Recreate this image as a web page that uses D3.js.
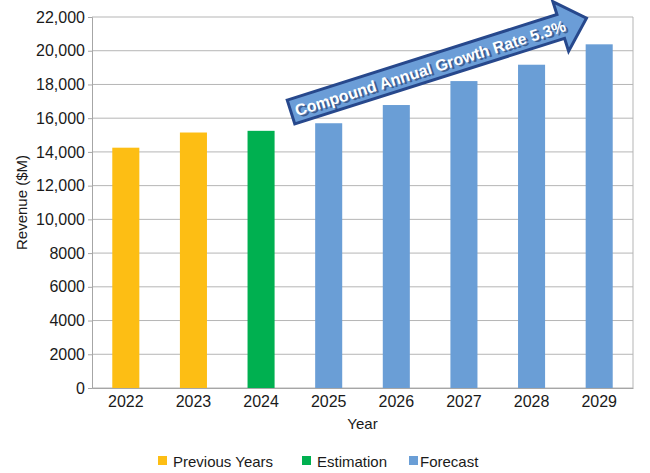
<!DOCTYPE html>
<html>
<head>
<meta charset="utf-8">
<script src="https://cdn.jsdelivr.net/npm/d3@7"></script>
<style>
  body { margin: 0; background: #fff; }
  text { font-family: "Liberation Sans", Arial, sans-serif; fill: #1a1a1a; }
</style>
</head>
<body>
<div id="chart"></div>
<script>
// data
const years = ["2022", "2023", "2024", "2025", "2026", "2027", "2028", "2029"];
const revenue = [14250, 15150, 15250, 15700, 16780, 18200, 19170, 20380];
const kinds = ["Previous Years", "Previous Years", "Estimation", "Forecast", "Forecast", "Forecast", "Forecast", "Forecast"];
const legendItems = ["Previous Years", "Estimation", "Forecast"];
const yTicks = [0, 2000, 4000, 6000, 8000, 10000, 12000, 14000, 16000, 18000, 20000, 22000];
const cagrLabel = "Compound Annual Growth Rate 5.3%";

const width = 650, height = 473;
const margin = {top: 17, right: 17, bottom: 85, left: 92};
const w = width - margin.left - margin.right,
      h = height - margin.top - margin.bottom;

const color = d3.scaleOrdinal()
    .domain(legendItems)
    .range(["#fdbe14", "#00b050", "#6a9ed6"]);

const svg = d3.select("#chart").append("svg")
    .attr("width", width).attr("height", height);

const g = svg.append("g").attr("transform", `translate(${margin.left},${margin.top})`);

const x = d3.scaleBand().domain(years).range([0, w]).paddingInner(0.6).paddingOuter(0.3);
const y = d3.scaleLinear().domain([0, 22000]).range([h, 0]);

// gridlines
g.append("g").selectAll("line")
    .data(yTicks)
  .enter().append("line")
    .attr("x1", 0).attr("x2", w)
    .attr("y1", d => y(d)).attr("y2", d => y(d))
    .style("stroke", "#b5b5b5").style("stroke-width", 1);

// right border
g.append("line")
    .attr("x1", w).attr("x2", w).attr("y1", 0).attr("y2", h)
    .style("stroke", "#b5b5b5");

// y axis
const fmt = d => d >= 10000 ? d3.format(",")(d) : String(d);
const yAxis = g.append("g")
    .call(d3.axisLeft(y).tickValues(yTicks).tickFormat(fmt).tickSize(4).tickPadding(3));
yAxis.select(".domain").style("stroke", "#a6a6a6");
yAxis.selectAll(".tick line").style("stroke", "#a6a6a6");
yAxis.selectAll("text").style("font-size", "16px").style("fill", "#1a1a1a")
    .style("font-family", "'Liberation Sans', Arial, sans-serif");

// bars
g.append("g").selectAll("rect")
    .data(years)
  .enter().append("rect")
    .attr("x", d => x(d))
    .attr("width", x.bandwidth())
    .attr("y", (d, i) => y(revenue[i]))
    .attr("height", (d, i) => h - y(revenue[i]))
    .style("fill", (d, i) => color(kinds[i]));

// x axis
const xAxis = g.append("g")
    .attr("transform", `translate(0,${h})`)
    .call(d3.axisBottom(x).tickSize(0).tickPadding(8));
xAxis.select(".domain").style("stroke", "#a6a6a6");
xAxis.selectAll("text").style("font-size", "16px").style("fill", "#1a1a1a")
    .style("font-family", "'Liberation Sans', Arial, sans-serif");

// axis titles
svg.append("text")
    .attr("x", margin.left + w / 2).attr("y", 429)
    .attr("text-anchor", "middle")
    .style("font-size", "15px")
    .text("Year");

svg.append("text")
    .attr("transform", `translate(27,${margin.top + h / 2}) rotate(-90)`)
    .attr("text-anchor", "middle")
    .style("font-size", "15px")
    .text("Revenue ($M)");

// legend
const legendX = [158, 302, 409];
const legend = svg.append("g").selectAll("g")
    .data(legendItems)
  .enter().append("g")
    .attr("transform", (d, i) => `translate(${legendX[i]},456)`);
legend.append("rect")
    .attr("width", 9).attr("height", 9)
    .style("fill", d => color(d));
legend.append("text")
    .attr("x", (d, i) => i === 2 ? 11 : 15).attr("y", 10.5)
    .style("font-size", "15px")
    .text(d => d);

// growth arrow
const ang = -17.6, len = 310, head = 27, half = 12.5, headHalf = 26;
const arrow = svg.append("g")
    .attr("transform", `translate(291,112) rotate(${ang})`);
arrow.append("path")
    .attr("d", `M0,${-half} L${len - head},${-half} L${len - head},${-headHalf} L${len},0 L${len - head},${headHalf} L${len - head},${half} L0,${half} Z`)
    .style("fill", "#6b9dd7")
    .style("stroke", "#27488c")
    .style("stroke-width", 3)
    .style("stroke-linejoin", "miter");
arrow.append("text")
    .attr("x", 147).attr("y", 7)
    .attr("text-anchor", "middle")
    .style("font-size", "16px").style("font-weight", "bold")
    .style("fill", "#1f3563").style("opacity", 0.6)
    .attr("dx", 1).attr("dy", 1)
    .text(cagrLabel);
arrow.append("text")
    .attr("x", 146).attr("y", 6)
    .attr("text-anchor", "middle")
    .style("font-size", "16px").style("font-weight", "bold")
    .style("fill", "#ffffff")
    .text(cagrLabel);
</script>
</body>
</html>
